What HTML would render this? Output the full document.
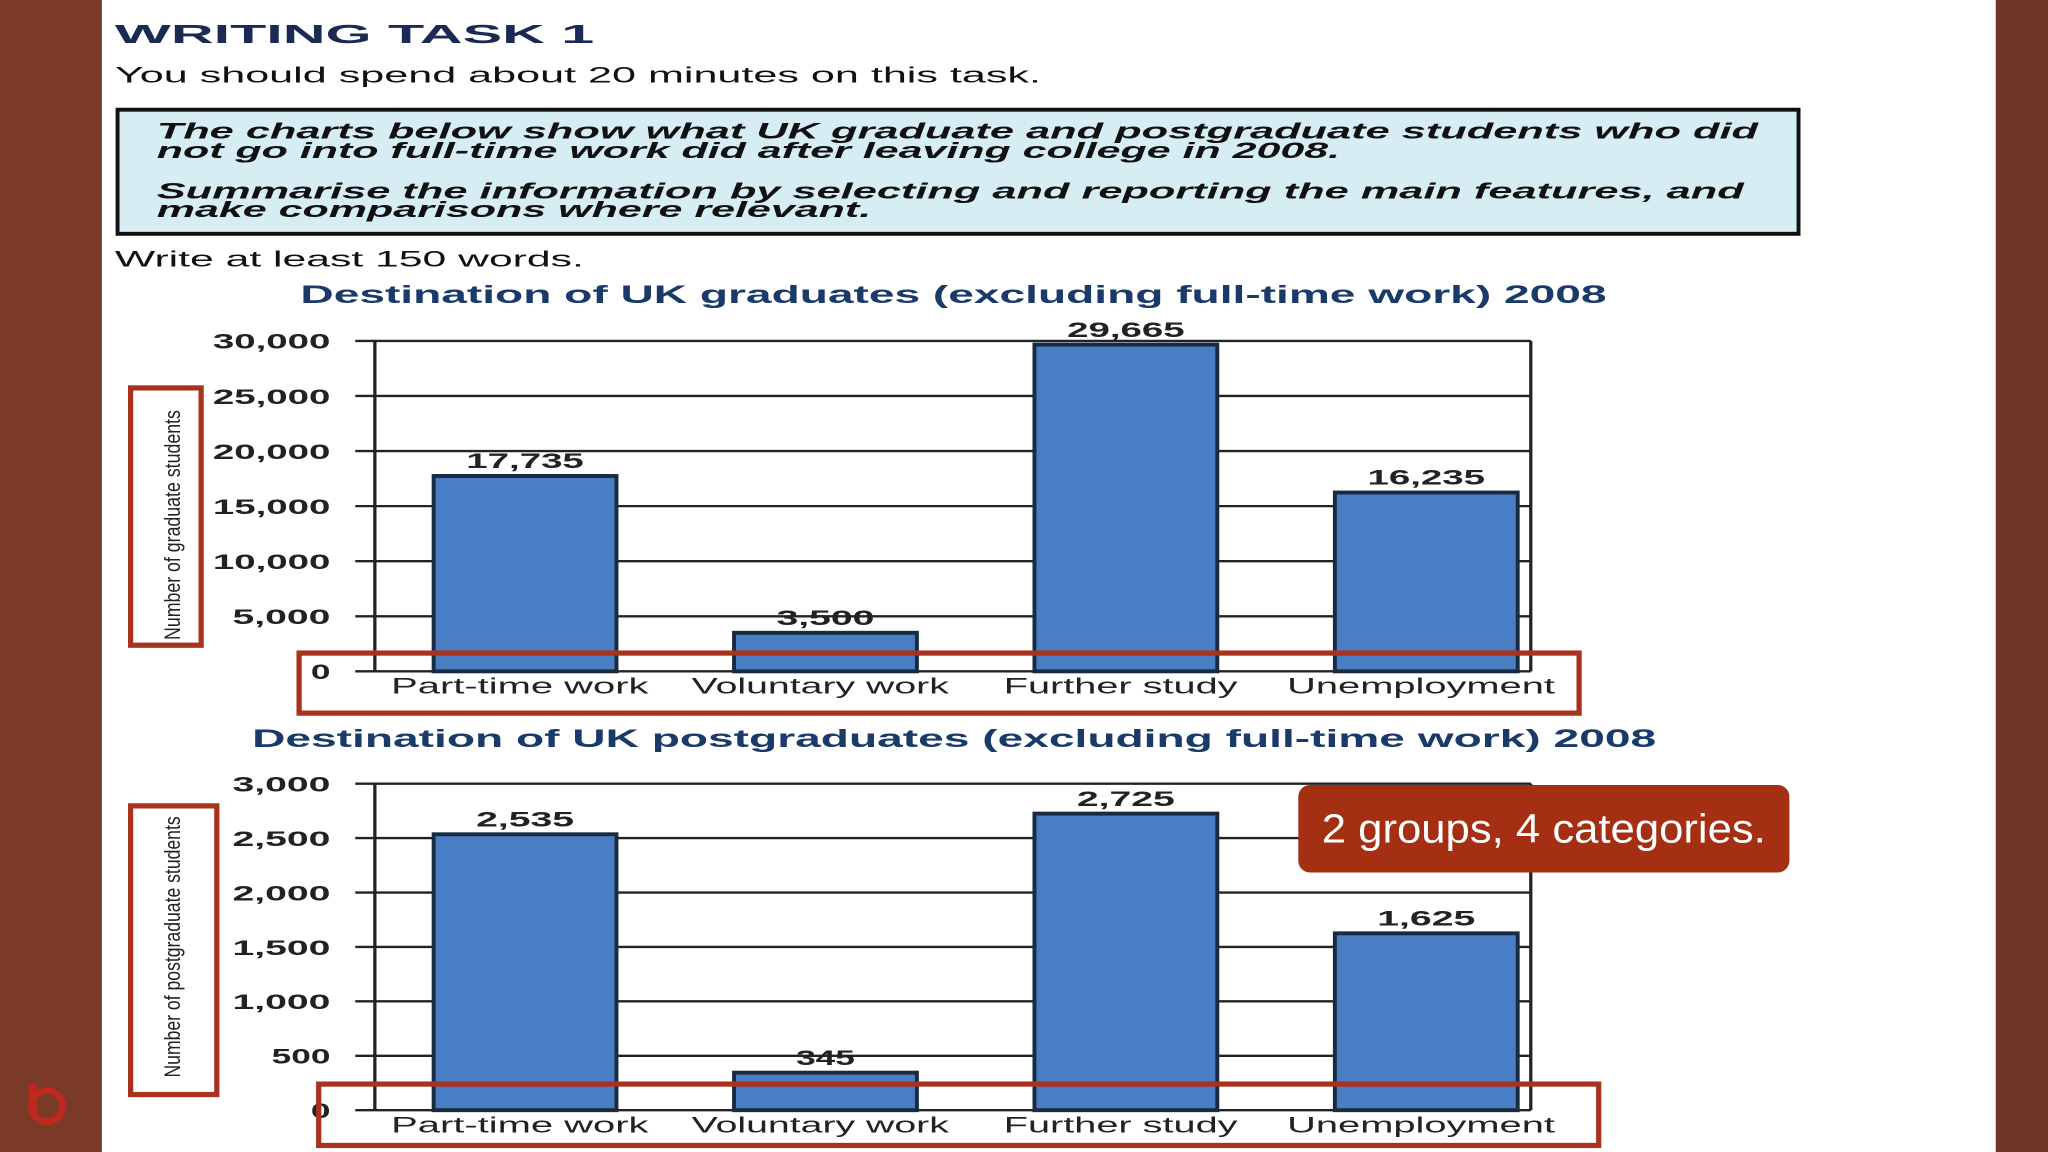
<!DOCTYPE html>
<html><head><meta charset="utf-8"><style>
html,body{margin:0;padding:0;width:2048px;height:1152px;overflow:hidden;background:#fff}
svg{display:block}
text{font-family:"Liberation Sans",sans-serif}
</style></head><body>
<svg id="s" width="2048" height="1152" viewBox="0 0 1568 882">
<rect x="0" y="0" width="1568" height="882" fill="#fff"/>
<rect x="0" y="0" width="78" height="882" fill="#7b3a28"/>
<rect x="1528" y="0" width="40" height="882" fill="#6e3426"/>
<text x="88" y="33" font-size="20" font-weight="bold" textLength="367" lengthAdjust="spacingAndGlyphs" fill="#1a2a55">WRITING TASK 1</text>
<text x="88" y="63" font-size="17" textLength="709" lengthAdjust="spacingAndGlyphs" fill="#111">You should spend about 20 minutes on this task.</text>
<rect x="90" y="84" width="1287" height="95" fill="#d6edf4" stroke="#111" stroke-width="3"/>
<g font-size="17" font-weight="bold" font-style="italic" fill="#111">
<text x="120" y="106" textLength="1226" lengthAdjust="spacingAndGlyphs">The charts below show what UK graduate and postgraduate students who did</text>
<text x="120" y="121" textLength="906" lengthAdjust="spacingAndGlyphs">not go into full-time work did after leaving college in 2008.</text>
<text x="120" y="152" textLength="1215" lengthAdjust="spacingAndGlyphs">Summarise the information by selecting and reporting the main features, and</text>
<text x="120" y="166" textLength="547" lengthAdjust="spacingAndGlyphs">make comparisons where relevant.</text>
</g>
<text x="88" y="204" font-size="17" textLength="359" lengthAdjust="spacingAndGlyphs" fill="#111">Write at least 150 words.</text>
<g id="c1"></g><g id="c2"></g>
<rect x="100" y="297" width="54" height="197" fill="none" stroke="#a8321e" stroke-width="4"/>
<rect x="229" y="500" width="980" height="46" fill="none" stroke="#a8321e" stroke-width="4"/>
<rect x="100" y="617" width="66" height="221" fill="none" stroke="#a8321e" stroke-width="4"/>
<rect x="244" y="830" width="980" height="47" fill="none" stroke="#a8321e" stroke-width="4"/>
<g>
<rect x="994" y="601" width="376" height="67" rx="9" fill="#a52f12"/>
<text x="1182" y="645" font-size="31" fill="#fff" text-anchor="middle" textLength="340" lengthAdjust="spacingAndGlyphs">2 groups, 4 categories.</text>
</g>
<g><circle cx="36" cy="847" r="12" fill="none" stroke="#c0281e" stroke-width="5"/><rect x="22" y="830" width="6" height="22" fill="#c0281e"/></g>
</svg>
<script>
const categories=["Part-time work","Voluntary work","Further study","Unemployment"];
const gradValues=[17735,3500,29665,16235];
const postValues=[2535,345,2725,1625];
const gradTicks=[0,5000,10000,15000,20000,25000,30000];
const postTicks=[0,500,1000,1500,2000,2500,3000];
const NS="http://www.w3.org/2000/svg";
function mk(p,t,a,txt){const e=document.createElementNS(NS,t);for(const k in a)e.setAttribute(k,a[k]);if(txt!==undefined)e.textContent=txt;p.appendChild(e);return e;}
function fmt(v){return v.toLocaleString("en-US");}
const catW=[197,197,179,205];
function chart(g,cfg){
  const x0=287,x1=1172,yTop=cfg.top,yBot=cfg.bot,max=cfg.ticks[cfg.ticks.length-1];
  const y=v=>yBot-(v/max)*(yBot-yTop);
  const xc=i=>x0+115+i*230;
  const t=mk(g,"text",{x:cfg.titleX,y:cfg.titleY,"font-size":19,"font-weight":"bold",fill:"#1a3a6a",textLength:cfg.titleW,lengthAdjust:"spacingAndGlyphs"},cfg.title);
  
  
  cfg.ticks.forEach(v=>{
    const l=mk(g,"line",{x1:x0-15,x2:x1,y1:y(v),y2:y(v),stroke:"#222","stroke-width":1.8});
    
    
    const s=fmt(v);
    const tl=mk(g,"text",{x:253,y:y(v)+6,"font-size":16,"font-weight":"bold",fill:"#222","text-anchor":"end",textLength:s.length*15,lengthAdjust:"spacingAndGlyphs"},s);
    
    
  });
  const ax=mk(g,"line",{x1:x0,x2:x0,y1:yTop,y2:yBot,stroke:"#222","stroke-width":2.5});
  
  
  const ax2=mk(g,"line",{x1:x1,x2:x1,y1:yTop,y2:yBot,stroke:"#222","stroke-width":2.5});
  
  
  cfg.values.forEach((v,i)=>{
    const b=mk(g,"rect",{x:xc(i)-70,y:y(v),width:140,height:yBot-y(v),fill:"#4a7ec4",stroke:"#1a2a40","stroke-width":3});
    
    
    const s=fmt(v);
    const vl=mk(g,"text",{x:xc(i),y:y(v)-6,"font-size":16,"font-weight":"bold",fill:"#222","text-anchor":"middle",textLength:s.length*15,lengthAdjust:"spacingAndGlyphs"},s);
    
    
    const cl=mk(g,"text",{x:xc(i)-4,y:yBot+17,"font-size":17,fill:"#222","text-anchor":"middle",textLength:catW[i],lengthAdjust:"spacingAndGlyphs"},categories[i]);
    
    
  });
  const yl=mk(g,"text",{transform:`translate(${cfg.ylx},${cfg.ylc}) rotate(-90)`,"font-size":17,fill:"#222","text-anchor":"middle",textLength:cfg.ylw,lengthAdjust:"spacingAndGlyphs"},cfg.ylabel);
  
  
}
chart(document.getElementById("c1"),{top:261,bot:514,titleX:230,titleW:1000,titleY:232,title:"Destination of UK graduates (excluding full-time work) 2008",values:gradValues,ticks:gradTicks,ylabel:"Number of graduate students",ylx:138,ylc:402,ylw:176});
chart(document.getElementById("c2"),{top:600,bot:850,titleX:193,titleW:1075,titleY:572,title:"Destination of UK postgraduates (excluding full-time work) 2008",values:postValues,ticks:postTicks,ylabel:"Number of postgraduate students",ylx:138,ylc:725,ylw:200});
</script>
</body></html>
